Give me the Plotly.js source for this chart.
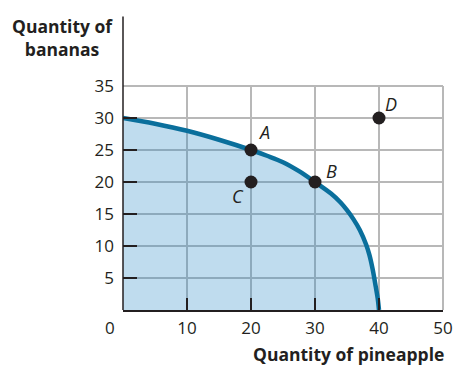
<!DOCTYPE html>
<html>
<head>
<meta charset="utf-8">
<script src="https://cdn.plot.ly/plotly-3.0.1.min.js"></script>
<style>html,body{margin:0;padding:0;background:#fff;}#chart{width:474px;height:382px;}</style>
</head>
<body>
<div id="chart"></div>
<script>
// Production possibility frontier
const ppfPineapple = [0, 5, 10, 15, 20, 22.5, 25, 27.5, 30, 32.5, 34, 35, 36, 37, 38, 38.5, 39, 39.5, 39.8, 40];
const ppfBananas   = [30, 29.1, 28, 26.6, 25, 24.1, 23.1, 21.7, 20, 18.2, 16.8, 15.6, 14.2, 12.5, 10.2, 8.6, 6.4, 3.6, 1.8, 0];

const pointLabels    = ["A", "B", "C", "D"];
const pointPineapple = [20, 30, 20, 40];
const pointBananas   = [25, 20, 20, 30];

const xTickVals = [10, 20, 30, 40, 50];
const yTickVals = [5, 10, 15, 20, 25, 30, 35];

const xTitle = "Quantity of pineapple";
const yTitle = "Quantity of<br>bananas";

const FONT = "Open Sans, sans-serif";
const DARK = "#231f20";
const GRID = "#b8b8b8";

// label offsets (pixels) for the point letters
const labelDX = [13, 16, -13, 12];
const labelDY = [18, 11, -14, 14];

const traces = [
  {
    x: ppfPineapple, y: ppfBananas, type: "scatter", mode: "lines",
    line: {color: "#0a6f9c", width: 4.5, shape: "spline", smoothing: 1},
    fill: "tozeroy", fillcolor: "rgba(42,138,198,0.3)",
    hoverinfo: "skip"
  },
  {
    x: pointPineapple, y: pointBananas, type: "scatter", mode: "markers",
    marker: {color: DARK, size: 13},
    cliponaxis: false
  }
];

const annotations = [
  {text: "0", xref: "x", yref: "y", x: 0, y: 0, xshift: -13, yshift: -17, showarrow: false, font: {family: FONT, size: 17, color: DARK}},
  {text: xTitle, xref: "paper", yref: "paper", x: 1.01, y: 0, yshift: -44, xanchor: "right", yanchor: "middle", showarrow: false, font: {family: FONT, size: 17.5, color: DARK, weight: "bold"}},
  {text: yTitle, xref: "paper", yref: "paper", x: 0, xshift: -61, y: 1, yshift: 49, xanchor: "center", yanchor: "middle", align: "center", showarrow: false, font: {family: FONT, size: 17.5, color: DARK, weight: "bold"}}
];
pointLabels.forEach((lab, i) => {
  annotations.push({
    text: lab, xref: "x", yref: "y", x: pointPineapple[i], y: pointBananas[i],
    xshift: labelDX[i], yshift: labelDY[i], showarrow: false,
    font: {family: FONT, size: 18, color: DARK, style: "italic"}
  });
});

const layout = {
  width: 474, height: 382,
  margin: {l: 123, r: 31, t: 86, b: 72},
  paper_bgcolor: "#fff", plot_bgcolor: "#fff",
  showlegend: false,
  font: {family: FONT, color: DARK, size: 17},
  xaxis: {
    range: [0, 50], tickvals: xTickVals, ticktext: xTickVals.map(String),
    ticks: "inside", ticklen: 12, tickwidth: 1.5, tickcolor: DARK,
    showgrid: true, gridcolor: GRID, gridwidth: 2,
    zeroline: false, showline: true, linecolor: DARK, linewidth: 1.5,
    ticklabelstandoff: 2,
    tickfont: {family: FONT, size: 17, color: DARK}, fixedrange: true
  },
  yaxis: {
    range: [0, 35], tickvals: yTickVals, ticktext: yTickVals.map(String),
    ticks: "inside", ticklen: 14, tickwidth: 1.5, tickcolor: DARK,
    showgrid: true, gridcolor: GRID, gridwidth: 2,
    zeroline: false, showline: false,
    ticklabelstandoff: 8,
    tickfont: {family: FONT, size: 17, color: DARK}, fixedrange: true
  },
  shapes: [
    {type: "line", xref: "paper", yref: "paper", x0: 1, x1: 1, y0: 0, y1: 1, line: {color: GRID, width: 2}},
    {type: "line", xref: "paper", yref: "paper", x0: 0, x1: 1, y0: 1, y1: 1, line: {color: GRID, width: 2}},
    {type: "line", xref: "paper", yref: "paper", x0: 0, x1: 0, y0: 0, y1: 1.31, line: {color: DARK, width: 1.5}, layer: "above"}
  ],
  annotations: annotations
};

Plotly.newPlot("chart", traces, layout, {displayModeBar: false, staticPlot: true});
</script>
</body>
</html>
